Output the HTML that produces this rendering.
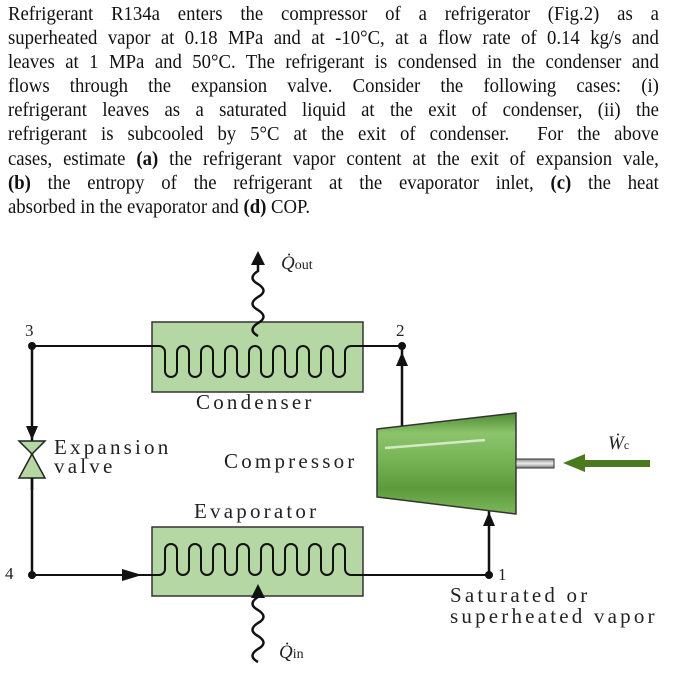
<!DOCTYPE html>
<html><head><meta charset="utf-8"><style>
body{margin:0;width:691px;height:693px;background:#fff;overflow:hidden;position:relative}
.t{position:absolute;left:8px;width:678px;font-family:"Liberation Serif",serif;font-size:19.5px;color:#111;transform:scaleX(0.96);transform-origin:0 0;white-space:nowrap;text-align:justify;text-align-last:justify;line-height:24px}
.l{position:absolute;font-family:"Liberation Serif",serif;font-size:21px;letter-spacing:3.2px;color:#222;white-space:nowrap}
.n{position:absolute;font-family:"Liberation Serif",serif;font-size:17px;color:#222}
</style></head><body>
<div class="t" style="top:3px">Refrigerant R134a enters the compressor of a refrigerator (Fig.2) as a</div>
<div class="t" style="top:27px">superheated vapor at 0.18 MPa and at -10°C, at a flow rate of 0.14 kg/s and</div>
<div class="t" style="top:51px">leaves at 1 MPa and 50°C. The refrigerant is condensed in the condenser and</div>
<div class="t" style="top:75px">flows through the expansion valve. Consider the following cases: (i)</div>
<div class="t" style="top:99px">refrigerant leaves as a saturated liquid at the exit of condenser, (ii) the</div>
<div class="t" style="top:123px">refrigerant is subcooled by 5°C at the exit of condenser. &nbsp;For the above</div>
<div class="t" style="top:148px">cases, estimate <b>(a)</b> the refrigerant vapor content at the exit of expansion vale,</div>
<div class="t" style="top:172px"><b>(b)</b> the entropy of the refrigerant at the evaporator inlet, <b>(c)</b> the heat</div>
<div class="t" style="top:196px;text-align:left;text-align-last:left">absorbed in the evaporator and <b>(d)</b> COP.</div>

<svg width="691" height="693" style="position:absolute;left:0;top:0">
<defs>
<linearGradient id="g" x1="0" y1="0" x2="0" y2="1">
<stop offset="0" stop-color="#4f8a2e"/><stop offset="0.2" stop-color="#8cc46c"/>
<stop offset="0.45" stop-color="#78b556"/><stop offset="0.75" stop-color="#5c9a3c"/><stop offset="1" stop-color="#7cb85a"/>
</linearGradient>
<linearGradient id="s" x1="0" y1="0" x2="0" y2="1"><stop offset="0" stop-color="#888"/><stop offset="0.5" stop-color="#eee"/><stop offset="1" stop-color="#777"/></linearGradient>
</defs>
<g stroke="#111" stroke-width="2" fill="none">
<rect x="152" y="322" width="211" height="70" fill="#b5d7a3" stroke="#333" stroke-width="1.5"/>
<rect x="152" y="527" width="211" height="69" fill="#b5d7a3" stroke="#333" stroke-width="1.5"/>
<path d="M32,346 H159 a6 6 0 0 1 6 6 v19 a6 6 0 0 0 12 0 v-19 a6 6 0 0 1 12 0 v19 a6 6 0 0 0 12 0 v-19 a6 6 0 0 1 12 0 v19 a6 6 0 0 0 12 0 v-19 a6 6 0 0 1 12 0 v19 a6 6 0 0 0 12 0 v-19 a6 6 0 0 1 12 0 v19 a6 6 0 0 0 12 0 v-19 a6 6 0 0 1 12 0 v19 a6 6 0 0 0 12 0 v-19 a6 6 0 0 1 12 0 v19 a6 6 0 0 0 12 0 v-19 a6 6 0 0 1 12 0 v19 a6 6 0 0 0 12 0 v-19 a6 6 0 0 1 6 -6 H402"/>
<path d="M32,575 H159 a6 6 0 0 0 6 -6 v-19 a6 6 0 0 1 12 0 v19 a6 6 0 0 0 12 0 v-19 a6 6 0 0 1 12 0 v19 a6 6 0 0 0 12 0 v-19 a6 6 0 0 1 12 0 v19 a6 6 0 0 0 12 0 v-19 a6 6 0 0 1 12 0 v19 a6 6 0 0 0 12 0 v-19 a6 6 0 0 1 12 0 v19 a6 6 0 0 0 12 0 v-19 a6 6 0 0 1 12 0 v19 a6 6 0 0 0 12 0 v-19 a6 6 0 0 1 12 0 v19 a6 6 0 0 0 12 0 v-19 a6 6 0 0 1 12 0 v19 a6 6 0 0 0 6 6 H489"/>
<path d="M32,346 V575" stroke-width="2.5"/>
<path d="M402,346 V427" stroke-width="2.5"/>
<path d="M489,575 V510" stroke-width="2.5"/>
<path d="M258,336 q-11,-6 0,-13 q11,-6 0,-13 q-11,-6 0,-13 q11,-6 0,-13 q-11,-6 0,-13 V262" stroke-width="2.5"/>
<path d="M258,662 q-11,-6 0,-13 q11,-6 0,-13 q-11,-6 0,-13 q11,-6 0,-13 q-11,-6 0,-13 V596" stroke-width="2.5"/>
</g>
<g fill="#111">
<circle cx="32" cy="346" r="4"/><circle cx="402" cy="346" r="4"/><circle cx="32" cy="575" r="4"/><circle cx="489" cy="575" r="4"/>
<polygon points="26,426 38,426 32,440"/>
<polygon points="396,366 408,366 402,352"/>
<polygon points="483,526 495,526 489,512"/>
<polygon points="122,569 122,581 142,575"/>
<polygon points="251,265 265,265 258,251"/>
<polygon points="251,598 265,598 258,584"/>
</g>
<polygon points="19,441 45,441 32,454 45,478 19,478 32,454" fill="#b5d7a3" stroke="#222" stroke-width="1.5"/>
<path d="M32,478 V490" stroke="#111" stroke-width="2.5"/>
<polygon points="377,429 516,413 516,514 377,497" fill="url(#g)" stroke="#333" stroke-width="1.5"/>
<path d="M385,448 L485,440" stroke="#e8f5e0" stroke-width="2.5" opacity="0.8"/>
<rect x="516" y="459" width="38" height="9" fill="url(#s)" stroke="#333" stroke-width="1"/>
<polygon points="563,463 585,454 585,460 650,460 650,467 585,467 585,472" fill="#4b7a1e"/>
</svg>
<div class="n" style="left:25px;top:321px">3</div>
<div class="n" style="left:396px;top:321px">2</div>
<div class="n" style="left:5px;top:564px">4</div>
<div class="n" style="left:498px;top:565px">1</div>
<div class="l" style="left:196px;top:390px">Condenser</div>
<div class="l" style="left:224px;top:449px">Compressor</div>
<div class="l" style="left:194px;top:499px">Evaporator</div>
<div class="l" style="left:54px;top:438px;line-height:19px">Expansion<br>valve</div>
<div class="l" style="left:450px;top:585px;line-height:21px">Saturated or<br>superheated vapor</div>
<div class="n" style="left:281px;top:253px;font-style:italic;font-size:19px">Q̇<span style="font-style:normal;font-size:14px">out</span></div>
<div class="n" style="left:279px;top:642px;font-style:italic;font-size:19px">Q̇<span style="font-style:normal;font-size:14px">in</span></div>
<div class="n" style="left:608px;top:433px;font-style:italic;font-size:19px">Ẇ<span style="font-style:normal;font-size:12px">c</span></div>
</body></html>
